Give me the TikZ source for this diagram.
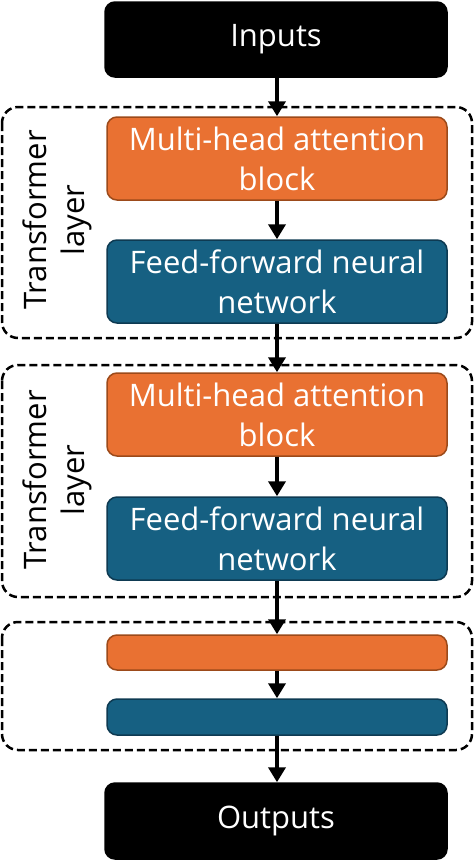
\documentclass[tikz,border=0pt]{standalone}
\usepackage{fontspec}
\setmainfont{Open Sans}
\usetikzlibrary{arrows.meta}

\definecolor{attorange}{HTML}{E97132}
\definecolor{attedge}{HTML}{9C4A1A}
\definecolor{ffnblue}{HTML}{166082}
\definecolor{ffnedge}{HTML}{0E3A52}

\tikzset{
	blk/.style={rounded corners=10pt, minimum width=340pt, line width=1.5pt,
		text=white, align=center, font=\fontsize{31}{40}\selectfont},
	attblock/.style={blk, fill=attorange, draw=attedge},
	ffnblock/.style={blk, fill=ffnblue, draw=ffnedge},
	ioblock/.style={blk, fill=black, draw=black, minimum width=342pt},
	layerbox/.style={draw=black, line width=2.5pt, dash pattern=on 8pt off 4pt, rounded corners=16pt},
	layerlabel/.style={rotate=90, align=center, font=\fontsize{31}{38}\selectfont},
	flow/.style={line width=4.5pt, -{Triangle[width=17pt,length=15pt]}}
}

\begin{document}
\begin{tikzpicture}[x=1pt,y=1pt]
	\useasboundingbox (0,0) rectangle (474,-863);
	% layers
	\draw [layerbox] (2,-107) rectangle (472,-338);
	\draw [layerbox] (2,-365) rectangle (472,-597);
	\draw [layerbox] (2,-622) rectangle (472,-750);
	\node [layerlabel] (lab1) at (57,-220) {Transformer\\layer};
	\node [layerlabel] (lab2) at (57,-480) {Transformer\\layer};
	% blocks
	\node [ioblock, minimum height=75pt] (inputs) at (276,-39.5) {Inputs};
	\node [attblock, minimum height=83pt] (att1) at (277,-158.5) {Multi-head attention\\block};
	\node [ffnblock, minimum height=83pt] (ffn1) at (277,-281.5) {Feed-forward neural\\network};
	\node [attblock, minimum height=83pt] (att2) at (277,-414.5) {Multi-head attention\\block};
	\node [ffnblock, minimum height=83pt] (ffn2) at (277,-538.5) {Feed-forward neural\\network};
	\node [attblock, minimum height=35pt] (att3) at (277,-652.5) {};
	\node [ffnblock, minimum height=36pt] (ffn3) at (277,-717) {};
	\node [ioblock, minimum height=76pt] (outputs) at (276,-821) {Outputs};
	% arrows
	\draw [flow] (inputs.south -| att1.north) -- (att1.north);
	\draw [flow] (att1) -- (ffn1);
	\draw [flow] (ffn1) -- (att2);
	\draw [flow] (att2) -- (ffn2);
	\draw [flow] (ffn2) -- (att3);
	\draw [flow] (att3) -- (ffn3);
	\draw [flow] (ffn3) -- (ffn3 |- outputs.north);
\end{tikzpicture}
\end{document}
